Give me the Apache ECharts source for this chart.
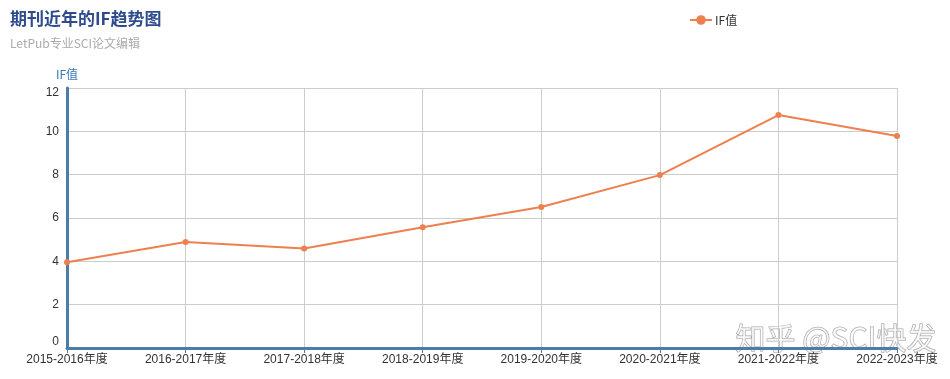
<!DOCTYPE html>
<html><head><meta charset="utf-8">
<script src="https://cdn.jsdelivr.net/npm/echarts@6/dist/echarts.min.js"></script>
<style>html,body{margin:0;padding:0;background:#fff}#c{width:950px;height:379px}</style>
</head><body><div id="c"></div>
<script>
const categories = ['2015-2016年度','2016-2017年度','2017-2018年度','2018-2019年度','2019-2020年度','2020-2021年度','2021-2022年度','2022-2023年度'];
const ifValues = [3.96, 4.89, 4.59, 5.57, 6.51, 7.98, 10.75, 9.78];
const yTicks = { min: 0, max: 12, interval: 2 };
const seriesName = 'IF值';

const chart = echarts.init(document.getElementById('c'));
chart.setOption({
  animation: false,
  backgroundColor: '#fff',
  title: {
    text: '期刊近年的IF趋势图',
    subtext: 'LetPub专业SCI论文编辑',
    left: 5, top: 5,
    textStyle: { color: '#2d4b8e', fontSize: 17, fontWeight: 'bold', fontFamily: 'Noto Sans CJK SC' },
    subtextStyle: { color: '#aaa', fontSize: 12, fontFamily: 'Noto Sans CJK SC' },
    itemGap: 10
  },
  legend: {
    data: [seriesName], left: 684, top: 9, itemWidth: 22, itemHeight: 12, itemGap: 6,
    textStyle: { color: '#333', fontSize: 12, fontFamily: 'Noto Sans CJK SC', padding: [0,0,0,-2] }
  },
  grid: { left: 67, right: 53, top: 88, bottom: 31 },
  xAxis: {
    type: 'category', data: categories, boundaryGap: false,
    axisLine: { lineStyle: { color: '#4a7dab', width: 3 } },
    axisTick: { show: true, lineStyle: { color: '#4a7dab' } },
    axisLabel: { color: '#333', fontSize: 12, margin: 6, fontFamily: 'Liberation Sans, Noto Sans CJK SC' },
    splitLine: { show: true, lineStyle: { color: '#ccc' } }
  },
  yAxis: {
    type: 'value', min: yTicks.min, max: yTicks.max, interval: yTicks.interval,
    name: seriesName, nameGap: 8,
    nameTextStyle: { color: '#3a78b5', fontSize: 12, align: 'center', fontFamily: 'Noto Sans CJK SC' },
    axisLine: { show: true, lineStyle: { color: '#4a7dab', width: 3 } },
    axisTick: { show: false },
    axisLabel: {
      color: '#333', fontSize: 12, margin: 8, fontFamily: 'Liberation Sans',
      formatter: v => v === yTicks.max ? '{t|' + v + '}' : (v === yTicks.min ? '{b|' + v + '}' : String(v)),
      rich: { t: { padding: [10, 0, 0, 0] }, b: { padding: [0, 0, 12, 0] } }
    },
    splitLine: { show: true, lineStyle: { color: '#ccc' } }
  },
  series: [{
    name: seriesName, type: 'line', data: ifValues,
    symbol: 'circle', symbolSize: 6,
    itemStyle: { color: '#ee7f4f' },
    lineStyle: { color: '#ee7f4f', width: 2 }
  }],
  graphic: [{
    type: 'text', left: 735, top: 322, silent: true,
    style: { text: '知乎 @SCI快发', fontSize: 30, fill: 'rgba(255,255,255,0.6)', stroke: 'rgba(90,90,90,0.55)', lineWidth: 1, fontFamily: 'Noto Sans CJK SC' }
  }]
});
</script></body></html>
